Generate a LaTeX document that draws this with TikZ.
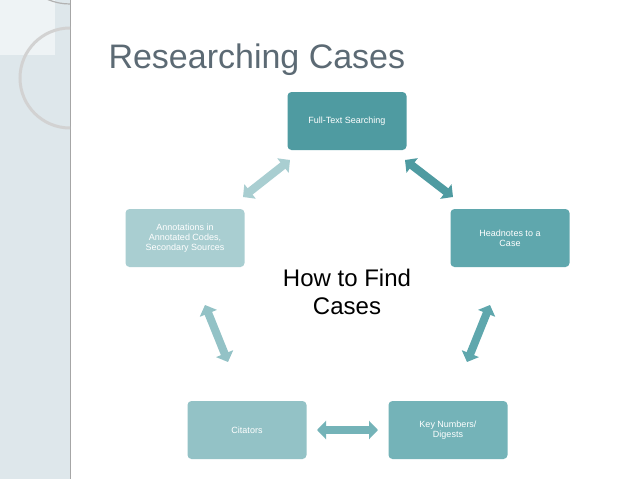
\documentclass[tikz,border=0pt]{standalone}
\usepackage{fontspec}
\setmainfont{Liberation Sans}
\usetikzlibrary{arrows.meta}
\definecolor{c1}{HTML}{4F9BA1}
\definecolor{c2}{HTML}{5FA7AD}
\definecolor{c3}{HTML}{74B3B8}
\definecolor{c4}{HTML}{93C2C6}
\definecolor{c5}{HTML}{A9CED1}
\definecolor{strip}{HTML}{DEE7EB}
\definecolor{titlec}{HTML}{5C6A74}
\begin{document}
\begin{tikzpicture}[x=1pt,y=-1pt,
  box/.style={rounded corners=4pt,minimum width=119pt,minimum height=58pt,text=white,font=\fontsize{9}{10}\selectfont,align=center,inner sep=2pt},
  dbl/.style={line width=8pt,{Triangle[width=18pt,length=9pt]}-{Triangle[width=18pt,length=9pt]},shorten <=0pt,shorten >=0pt}]
\useasboundingbox (0,0) rectangle (638,479);
\fill[white] (0,0) rectangle (638,479);
\fill[strip] (0,0) rectangle (70,479);
\draw[gray!70,line width=1pt] (70,0) -- (70,479);
\begin{scope}
\clip (0,0) rectangle (70,479);
\fill[white,opacity=0.5] (0,0) rectangle (55,55);
\draw[gray!60,line width=1.2pt] (70,4) arc[start angle=90,end angle=270,radius=57];
\draw[gray!35,line width=3pt] (70,78) circle[radius=50];
\end{scope}
\node[anchor=west,text=titlec,font=\fontsize{34}{36}\selectfont] (title) at (105,60) {Researching Cases};
\node[box,fill=c1] (ft) at (347,121) {Full-Text Searching};
\node[box,fill=c2] (hn) at (510,238) {Headnotes to a\\Case};
\node[box,fill=c3] (kn) at (448,430) {Key Numbers/\\Digests};
\node[box,fill=c4] (ci) at (247,430) {Citators};
\node[box,fill=c5] (an) at (185,238) {Annotations in\\Annotated Codes,\\Secondary Sources};
\node[font=\fontsize{24}{28}\selectfont,align=center] (ctr) at (347,292) {How to Find\\Cases};
\coordinate (a1) at (405,160); \coordinate (a2) at (453,197);
\coordinate (b1) at (490,305); \coordinate (b2) at (467,362);
\coordinate (c1p) at (378,430); \coordinate (c2p) at (317,430);
\coordinate (d1) at (228,362); \coordinate (d2) at (205,305);
\coordinate (e1) at (243,197); \coordinate (e2) at (290,160);
\draw[dbl,c1] (a1) -- (a2);
\draw[dbl,c2] (b1) -- (b2);
\draw[dbl,c3] (c1p) -- (c2p);
\draw[dbl,c4] (d1) -- (d2);
\draw[dbl,c5] (e1) -- (e2);
\end{tikzpicture}
\end{document}
